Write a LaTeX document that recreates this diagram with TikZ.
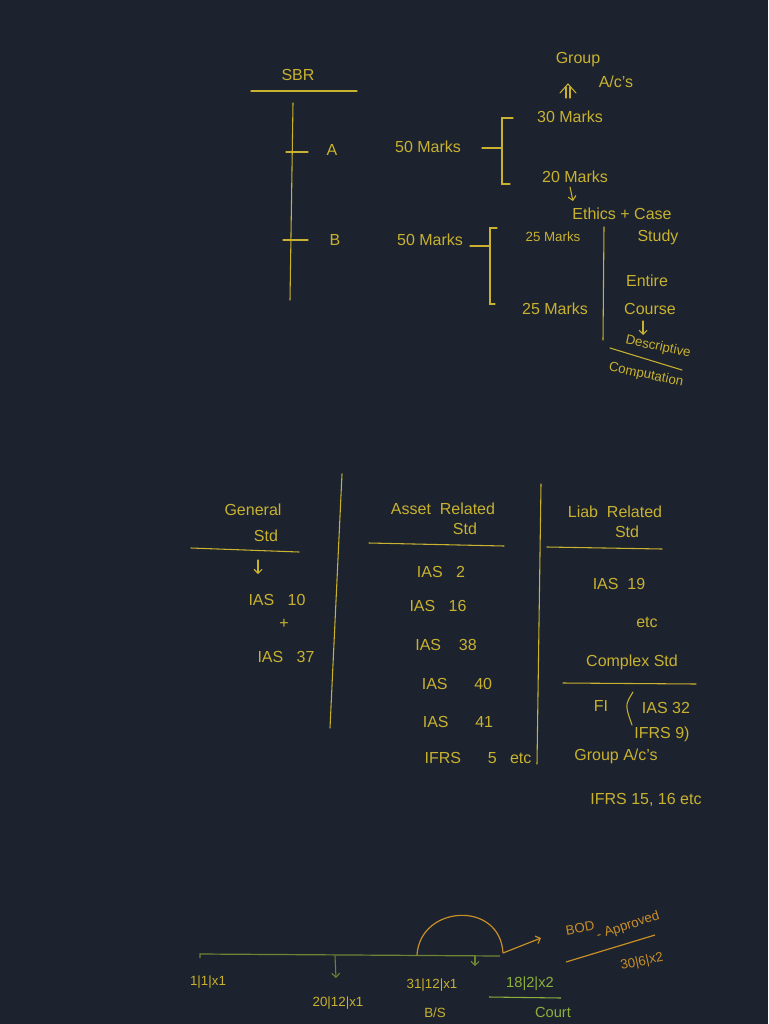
\documentclass[tikz,border=0pt]{standalone}
\usepackage{fontspec}
\setmainfont{Liberation Sans}
\usetikzlibrary{arrows.meta}
\definecolor{bg}{RGB}{28,34,46}
\definecolor{ink}{RGB}{200,178,48}
\definecolor{olive}{RGB}{112,132,52}
\definecolor{orng}{RGB}{200,142,40}
\definecolor{grn}{RGB}{140,176,60}
\begin{document}
\begin{tikzpicture}[x=0.75pt,y=-0.75pt,
  hw/.style={text=ink,font=\fontsize{12}{14}\selectfont,inner sep=1pt},
  hws/.style={text=ink,font=\fontsize{10}{12}\selectfont,inner sep=1pt},
  ln/.style={draw=ink,line width=0.8pt,line cap=round},
  arr/.style={ln,-{Straight Barb[length=3pt]}}]
\fill[bg] (0,0) rectangle (768,1024);
\useasboundingbox (0,0) rectangle (768,1024);
% ---------- top section ----------
\node[hw] (sbr) at (298,75) {SBR};
\coordinate (sbrL) at (251,91); \coordinate (sbrR) at (357,91);
\draw[ln] (sbrL) -- (sbrR);
\coordinate (vt) at (293,103); \coordinate (vb) at (290,300);
\draw[ln] (vt) -- (vb);
\coordinate (ta1) at (286,152); \coordinate (ta2) at (308,152);
\draw[ln] (ta1) -- (ta2);
\coordinate (tb1) at (283,240); \coordinate (tb2) at (308,240);
\draw[ln] (tb1) -- (tb2);
\node[hw] (A) at (332,150) {A};
\node[hw] (B) at (335,240) {B};
\node[hw] (ma) at (428,147) {50 Marks};
\node[hw] (mb) at (430,240) {50 Marks};
\coordinate (maE) at (482,148); \coordinate (bra) at (502,148);
\draw[ln] (maE) -- (bra);
\draw[ln] (513,118) -- (502,118) -- (502,184) -- (510,184);
\coordinate (mbE) at (470,246); \coordinate (brb) at (490,246);
\draw[ln] (mbE) -- (brb);
\draw[ln] (497,228) -- (490,228) -- (490,304) -- (495,304);
\node[hw] (m30) at (570,117) {30 Marks};
\node[hw] (m20) at (575,177) {20 Marks};
\node[hw] (grp) at (578,60) {Group};
\node[hw] (acs) at (616,82) {A/c's};
% double arrow up
\coordinate (dblT) at (568,84);
\draw[ln] (566,98) -- (566,87) (570,98) -- (570,87);
\draw[ln] (560,93) -- (dblT) -- (576,93);
\node[hw] (eth) at (622,214) {Ethics + Case};
\node[hw] (stu) at (658,237) {Study};
\coordinate (a20s) at (570,187); \coordinate (a20e) at (573,201);
\draw[arr] (a20s) -- (a20e);
\node[hws] (m25a) at (553,237) {25 Marks};
\node[hw] (m25b) at (555,309) {25 Marks};
\coordinate (vs1) at (604,227); \coordinate (vs2) at (603,340);
\draw[ln] (vs1) -- (vs2);
\node[hw] (ent) at (647,281) {Entire};
\node[hw] (cou) at (650,309) {Course};
\coordinate (cs) at (643,321); \coordinate (ce) at (643,335);
\draw[arr] (cs) -- (ce);
\node[hws,rotate=-12] (des) at (658,347) {Descriptive};
\draw[ln] (610,348) -- (682,370);
\node[hws,rotate=-12] (comp) at (646,375) {Computation};
% ---------- middle section ----------
\coordinate (v1t) at (342,474); \coordinate (v1b) at (330,728);
\draw[ln] (v1t) -- (v1b);
\coordinate (v2t) at (541,484); \coordinate (v2b) at (537,764);
\draw[ln] (v2t) -- (v2b);
\node[hw] (gen) at (253,510) {General};
\node[hw] (gstd) at (266,536) {Std};
\draw[ln] (191,548) -- (299,552);
\coordinate (gs) at (258,560); \coordinate (ge) at (258,574);
\draw[arr] (gs) -- (ge);
\node[hw] (g1) at (277,600) {IAS \ \ 10};
\node[hw] (gp) at (284,624) {+};
\node[hw] (g2) at (286,657) {IAS \ \ 37};
\node[hw] (ast) at (443,509) {Asset \ Related};
\node[hw] (astd) at (465,529) {Std};
\draw[ln] (369,543) -- (504,546);
\node[hw] (a1) at (441,572) {IAS \ \ 2};
\node[hw] (a2) at (438,606) {IAS \ \ 16};
\node[hw] (a3) at (446,645) {IAS \ \ \ 38};
\node[hw] (a4) at (457,684) {IAS \ \ \ \ \ 40};
\node[hw] (a5) at (458,722) {IAS \ \ \ \ \ 41};
\node[hw] (a6) at (478,758) {IFRS \ \ \ \ \ 5 \ \ etc};
\node[hw] (lia) at (615,512) {Liab \ Related};
\node[hw] (lstd) at (627,532) {Std};
\draw[ln] (547,547) -- (662,549);
\node[hw] (l1) at (619,584) {IAS \ 19};
\node[hw] (l2) at (647,622) {etc};
\node[hw] (cx) at (632,662) {Complex Std};
\draw[ln] (563,683) -- (696,684);
\node[hw] (fi) at (601,706) {FI};
\draw[ln] (633,692) .. controls (625,705) .. (632,725);
\node[hw] (ias32) at (666,708) {IAS 32};
\node[hw] (ifrs9) at (662,734) {IFRS 9)};
\node[hw] (ga) at (616,756) {Group A/c's};
\node[hw] (ifrs) at (646,800) {IFRS 15, 16 etc};
% ---------- bottom section ----------
\coordinate (t0) at (200,954); \coordinate (t1) at (500,956);
\draw[olive,line width=0.9pt] (200,958) -- (t0) -- (t1);
\coordinate (ds) at (335,956); \coordinate (de) at (336,978);
\draw[olive,line width=0.8pt,-{Straight Barb[length=3pt]}] (ds) -- (de);
\coordinate (arcL) at (417,955); \coordinate (arcR) at (503,953);
\draw[orng,line width=0.9pt] (arcL) .. controls (420,905) and (500,900) .. (arcR);
\coordinate (es) at (475,956); \coordinate (ee) at (475,966);
\draw[olive,line width=0.8pt,-{Straight Barb[length=3pt]}] (es) -- (ee);
\coordinate (bodA) at (541,938);
\draw[orng,line width=0.9pt,-{Straight Barb[length=3pt]}] (arcR) -- (bodA);
\node[hws] (d1) at (208,982) {1|1|x1};
\node[hws] (d2) at (338,1003) {20|12|x1};
\node[hws] (d3) at (432,985) {31|12|x1};
\node[hws] (bs) at (435,1013) {B/S};
\node[text=grn,font=\fontsize{11}{13}\selectfont,inner sep=1pt] (d4) at (530,984) {18|2|x2};
\draw[draw=grn,line width=0.8pt] (489,997) -- (561,998);
\node[text=grn,font=\fontsize{11}{13}\selectfont,inner sep=1pt] (court) at (553,1012) {Court};
\node[text=orng,font=\fontsize{10}{12}\selectfont,inner sep=1pt,rotate=10] (bod) at (580,928) {BOD};
\node[text=orng,font=\fontsize{10}{12}\selectfont,inner sep=1pt,rotate=18] (appr) at (628,926) {- Approved};
\draw[orng,line width=0.9pt] (566,962) -- (655,935);
\node[text=orng,font=\fontsize{10}{12}\selectfont,inner sep=1pt,rotate=12] (d5) at (642,962) {30|6|x2};
\end{tikzpicture}
\end{document}
